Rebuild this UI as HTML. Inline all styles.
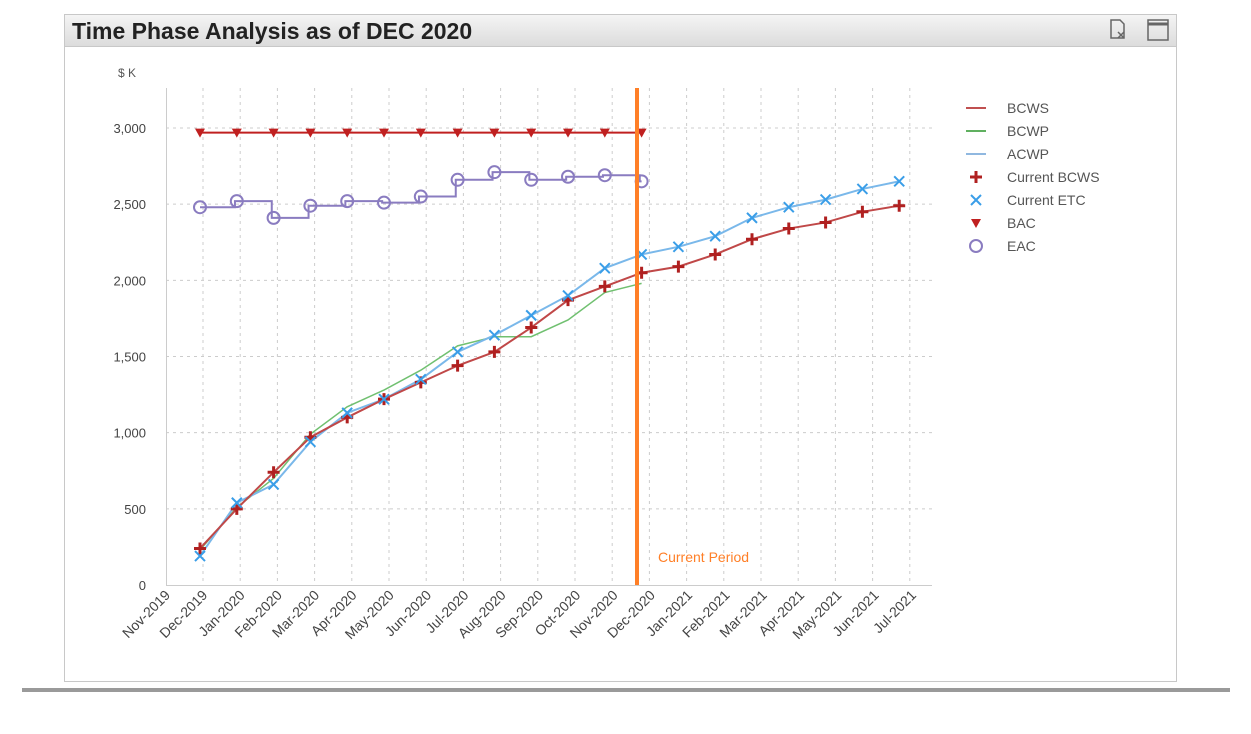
<!DOCTYPE html>
<html><head><meta charset="utf-8"><style>
body{margin:0;background:#fff;width:1251px;height:729px;overflow:hidden;font-family:"Liberation Sans",Arial,sans-serif}
</style></head><body>
<svg width="1251" height="729" xmlns="http://www.w3.org/2000/svg" font-family="Liberation Sans, Arial, sans-serif">
<defs><linearGradient id="tb" x1="0" y1="0" x2="0" y2="1"><stop offset="0" stop-color="#f4f4f4"/><stop offset="1" stop-color="#dcdcdc"/></linearGradient></defs>
<rect x="64.5" y="14.5" width="1112" height="667" fill="#fff" stroke="#c8c8c8"/>
<rect x="65" y="15" width="1111" height="31" fill="url(#tb)"/>
<line x1="65" y1="46.5" x2="1176" y2="46.5" stroke="#c8c8c8"/>
<text x="72" y="39" font-size="23" font-weight="bold" fill="#222">Time Phase Analysis as of DEC 2020</text>
<g fill="none" stroke="#666" stroke-width="1.5">
<path d="M1111 20h9l4 4v14h-13z"/><path d="M1118 32l6 6M1124 32l-6 6"/>
<rect x="1148" y="20" width="20" height="20"/><line x1="1148" y1="24" x2="1168" y2="24" stroke-width="3"/>
</g>
<rect x="22" y="688" width="1208" height="4" fill="#9a9a9a"/>
<text x="118" y="77" font-size="12" fill="#555">$ K</text>
<g id="grid" stroke="#ccc" stroke-dasharray="3,4" stroke-width="1"></g>
<line x1="166.5" y1="88" x2="166.5" y2="585" stroke="#ccc"/>
<line x1="166" y1="585.5" x2="932" y2="585.5" stroke="#ccc"/>
<g id="yl" font-size="13" fill="#444" text-anchor="end"></g>
<g id="xl" font-size="14" fill="#444" text-anchor="end"></g>
<g id="series"></g>
<line x1="637" y1="88" x2="637" y2="585" stroke="#ff7f27" stroke-width="4"/>
<text x="658" y="562" font-size="14" fill="#ff7f27">Current Period</text>
<g font-size="14" fill="#555">
<line x1="966" y1="108" x2="986" y2="108" stroke="#c05050" stroke-width="2"/><text x="1007" y="113">BCWS</text>
<line x1="966" y1="131" x2="986" y2="131" stroke="#60b060" stroke-width="2"/><text x="1007" y="136">BCWP</text>
<line x1="966" y1="154" x2="986" y2="154" stroke="#90b8e0" stroke-width="2"/><text x="1007" y="159">ACWP</text>
<text x="1007" y="182">Current BCWS</text>
<text x="1007" y="205">Current ETC</text>
<text x="1007" y="228">BAC</text>
<text x="1007" y="251">EAC</text>
</g>
<g id="leg"></g>
</svg>
<script>
var ns="http://www.w3.org/2000/svg";
function el(p,t,a){var e=document.createElementNS(ns,t);for(var k in a)e.setAttribute(k,a[k]);document.getElementById(p).appendChild(e);return e;}
function Y(v){return 585-v*0.15233;}
function X(i){return 200+36.8*i;}
for(var v=500;v<=3000;v+=500)el("grid","line",{x1:166,x2:932,y1:Y(v),y2:Y(v)});
for(var i=0;i<20;i++)el("grid","line",{x1:203+37.2*i,x2:203+37.2*i,y1:88,y2:585});
for(var v=0;v<=3000;v+=500){var t=el("yl","text",{x:146,y:Y(v)+5});t.textContent=v.toLocaleString("en-US");}
var m=["Nov-2019","Dec-2019","Jan-2020","Feb-2020","Mar-2020","Apr-2020","May-2020","Jun-2020","Jul-2020","Aug-2020","Sep-2020","Oct-2020","Nov-2020","Dec-2020","Jan-2021","Feb-2021","Mar-2021","Apr-2021","May-2021","Jun-2021","Jul-2021"];
m.forEach(function(s,i){var x=171+37.3*i;var t=el("xl","text",{x:x,y:596,transform:"rotate(-45 "+x+" 596)"});t.textContent=s;});
function path(d,c,w){var s="";d.forEach(function(v,i){s+=(i?"L":"M")+X(i)+" "+Y(v);});el("series","path",{d:s,fill:"none",stroke:c,"stroke-width":w||1.5});}
var bcws=[240,500,740,970,1100,1220,1330,1440,1530,1690,1870,1960,2050,2090,2170,2270,2340,2380,2450,2490];
var etc=[190,540,660,940,1130,1220,1350,1530,1640,1770,1900,2080,2170,2220,2290,2410,2480,2530,2600,2650];
var bcwp=[230,510,700,990,1170,1280,1410,1570,1630,1630,1740,1920,1980];
path(bcwp,"#70c070",1.5);
path(etc,"#7ab8ea",2);
path(bcws,"#c04848",2);
var bac=[];for(var i=0;i<13;i++)bac.push(2970);path(bac,"#c02020",2);
var eac=[2480,2520,2410,2490,2520,2510,2550,2660,2710,2660,2680,2690,2650];
var s="M"+X(0)+" "+Y(eac[0]);for(var i=1;i<eac.length;i++){s+="L"+X(i-0.05)+" "+Y(eac[i-1])+"L"+X(i-0.05)+" "+Y(eac[i])+"L"+X(i)+" "+Y(eac[i]);}
el("series","path",{d:s,fill:"none",stroke:"#8a7cc0","stroke-width":2});
function star(x,y,p){el(p,"path",{d:"M"+(x-6)+" "+y+"L"+(x+6)+" "+y+"M"+x+" "+(y-6)+"L"+x+" "+(y+6),stroke:"#b02020","stroke-width":3});}
function cross(x,y,p){el(p,"path",{d:"M"+(x-5)+" "+(y-5)+"L"+(x+5)+" "+(y+5)+"M"+(x+5)+" "+(y-5)+"L"+(x-5)+" "+(y+5),stroke:"#3a9ee8","stroke-width":2});}
function tri(x,y,p){el(p,"path",{d:"M"+(x-5)+" "+(y-4)+"L"+(x+5)+" "+(y-4)+"L"+x+" "+(y+5)+"Z",fill:"#c02020"});}
function circ(x,y,p){el(p,"circle",{cx:x,cy:y,r:6,fill:"none",stroke:"#8a7cc0","stroke-width":2});}
bcws.forEach(function(v,i){star(X(i),Y(v),"series");});
etc.forEach(function(v,i){cross(X(i),Y(v),"series");});
bac.forEach(function(v,i){tri(X(i),Y(v),"series");});
eac.forEach(function(v,i){circ(X(i),Y(v),"series");});
star(976,177,"leg");cross(976,200,"leg");tri(976,223,"leg");circ(976,246,"leg");
</script>
</body></html>
